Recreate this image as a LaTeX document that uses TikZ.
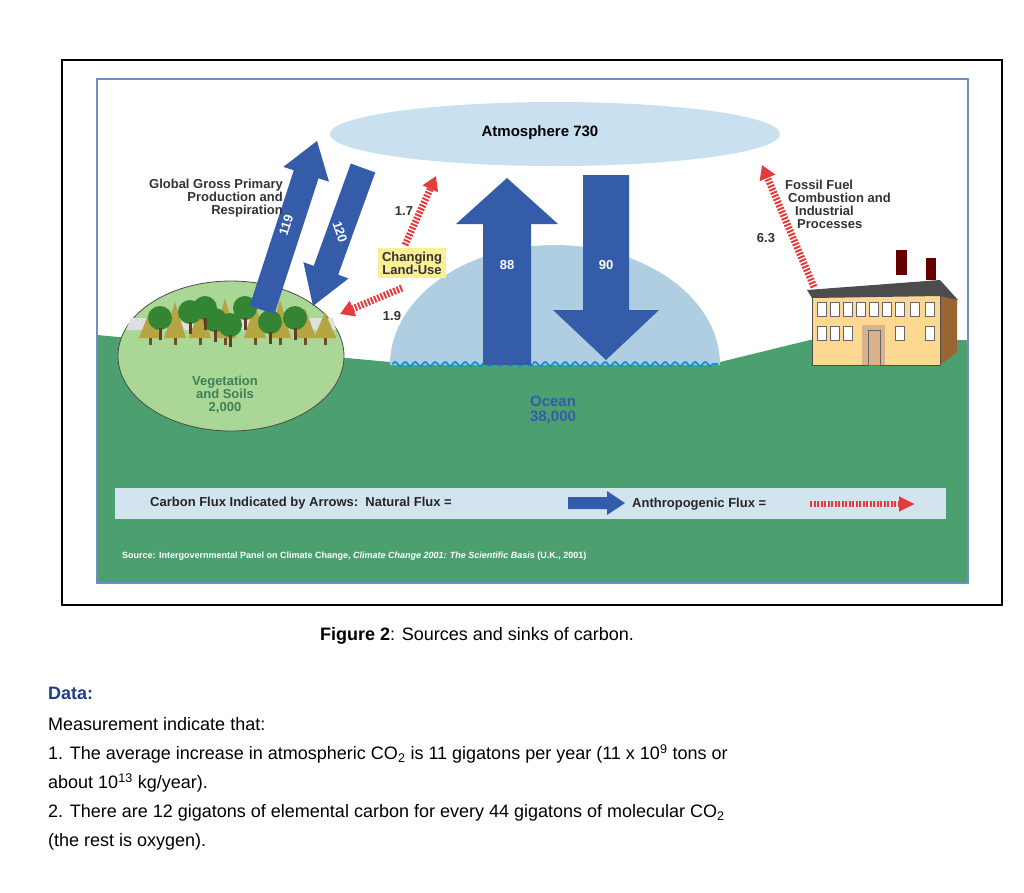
\documentclass[tikz,border=0pt]{standalone}
\usepackage{fontspec}
\setmainfont{Liberation Sans}
\usetikzlibrary{calc,arrows.meta,decorations.pathmorphing,shapes.geometric}
\definecolor{ground}{RGB}{76,160,112}
\definecolor{oceanc}{RGB}{176,206,226}
\definecolor{atm}{RGB}{200,224,240}
\definecolor{arrowb}{RGB}{52,92,168}
\definecolor{vegc}{RGB}{170,214,150}
\definecolor{yel}{RGB}{250,238,150}
\definecolor{redf}{RGB}{228,60,60}
\definecolor{legb}{RGB}{210,228,238}
\definecolor{datab}{RGB}{30,60,140}
\tikzset{
  lbl/.style={font=\bfseries\fontsize{13}{13}\selectfont, text=black!80, align=center, inner sep=0pt},
  big/.style={fill=arrowb},
  anthro/.style={draw=redf, line width=7pt, dash pattern=on 2pt off 1.5pt, -{Triangle[width=16pt,length=14pt,fill=redf]}},
  body/.style={font=\fontsize{18}{18}\selectfont, anchor=west, inner sep=0pt},
}
\newcommand\fatarrow[5]{%
  \path (#1) coordinate (fa1) (#2) coordinate (fa2);
  \coordinate (fh) at ($(fa2)!#5pt!(fa1)$);
  \fill[big] ($(fa1)!#3pt!90:(fa2)$) -- ($(fh)!#3pt!90:(fa2)$) -- ($(fh)!#4pt!90:(fa2)$) -- (fa2)
    -- ($(fh)!#4pt!-90:(fa2)$) -- ($(fh)!#3pt!-90:(fa2)$) -- ($(fa1)!#3pt!-90:(fa2)$) -- cycle;}
\begin{document}
\begin{tikzpicture}[x=1pt,y=-1pt]
\useasboundingbox (0,0) rectangle (1024,892);
% outer frame
\draw[line width=1.8pt] (62,60) rectangle (1002,605);
% panel
\fill[white] (97,79) rectangle (968,583);
\fill[ground] (97,335) -- (390,362) -- (720,362) -- (810,340) -- (968,340) -- (968,583) -- (97,583) -- cycle;
\fill[oceanc] (390,365) arc[start angle=180,end angle=360,x radius=165,y radius=120] -- cycle;
\draw[cyan!80!blue, line width=1.8pt, decorate, decoration={snake,amplitude=2pt,segment length=10pt}] (392,364) -- (718,364);
\draw[arrowb!70, line width=1.5pt] (97,79) rectangle (968,583);
% atmosphere
\node[ellipse, fill=atm, minimum width=450pt, minimum height=64pt, draw=none, inner sep=0pt] (atm) at (555,134) {};
\node[lbl, text=black] (atml) at (540,133) {\fontsize{15}{15}\selectfont Atmosphere 730};
% vegetation
\node[ellipse, draw=black!70, thick, fill=vegc, minimum width=226pt, minimum height=150pt, inner sep=0pt] (veg) at (231,356) {};
\fill[gray!25] (131,318) -- (333,318) -- (336,330) -- (126,330) -- cycle;
\foreach \x/\h in {150/28,175/36,200/30,225/40,255/34,280/38,305/30,325/26}{
  \fill[olive!60!brown!80] (\x-11,338) -- (\x,338-\h) -- (\x+11,338) -- cycle;
  \fill[brown!60!black] (\x-1.5,338) rectangle (\x+1.5,345);}
\foreach \x/\y in {160/318,190/312,215/320,245/308,270/322,295/318,205/308,230/325}{
  \fill[green!40!black!80] (\x,\y) circle (12);
  \fill[brown!50!black] (\x-1.5,\y+10) rectangle (\x+1.5,\y+22);}
\node[lbl, text=ground!80!black] (vegl) at (225,395) {Vegetation\\and Soils\\2,000};
% ocean label
\node[lbl, text=arrowb, font=\bfseries\fontsize{15}{15}\selectfont] (ocl) at (553,410) {Ocean\\38,000};
% natural arrows
\coordinate (a119s) at (262,310); \coordinate (a119e) at (317,141);
\fatarrow{a119s}{a119e}{13}{24}{35}
\coordinate (a120s) at (363,168); \coordinate (a120e) at (313,306);
\fatarrow{a120s}{a120e}{13}{24}{38}
\node[lbl, text=white, rotate=72] (n119) at (286,225) {119};
\node[lbl, text=white, rotate=-72] (n120) at (340,232) {120};
\coordinate (a88s) at (507,365); \coordinate (a88e) at (507,178);
\fatarrow{a88s}{a88e}{24}{51}{46}
\coordinate (a90s) at (606,175); \coordinate (a90e) at (606,360);
\fatarrow{a90s}{a90e}{23}{53}{50}
\node[lbl, text=white] (n88) at (507,265) {88};
\node[lbl, text=white] (n90) at (606,265) {90};
% anthropogenic
\coordinate (l17s) at (405,245); \coordinate (l17e) at (436,176);
\draw[anthro] (l17s) -- (l17e);
\coordinate (l19s) at (402,288); \coordinate (l19e) at (340,314);
\draw[anthro] (l19s) -- (l19e);
\coordinate (ffs) at (814,287); \coordinate (ffe) at (762,165);
\draw[anthro] (ffs) -- (ffe);
\node[lbl] (v17) at (404,211) {1.7};
\node[lbl] (v19) at (392,316) {1.9};
\node[lbl] (v63) at (766,238) {6.3};
\node[lbl, fill=yel, inner sep=4pt] (clu) at (412,263) {Changing\\Land-Use};
\node[lbl, align=right, anchor=east] (ggp) at (283,198) {Global Gross Primary\\Production and\\Respiration};
\node[lbl, align=left, anchor=west] (ffl) at (785,204) {Fossil Fuel\\\hspace{3pt}Combustion and\\\hspace{10pt}Industrial\\\hspace{12pt}Processes};
% factory
\fill[red!40!black] (896,250) rectangle (907,275);
\fill[red!40!black] (926,258) rectangle (936,280);
\fill[brown!80!black] (940,285) -- (957,300) -- (957,352) -- (940,365) -- cycle;
\fill[yellow!30!orange!40] (812,295) rectangle (940,365);
\draw[black!70] (812,295) rectangle (940,365);
\fill[black!70] (807,290) -- (940,280) -- (958,300) -- (940,296) -- (812,298) -- cycle;
\foreach \x in {817,830,843,856,869,882,895,910,925}{\draw[black!60,fill=white] (\x,302) rectangle ++(9,14);}
\foreach \x in {817,830,843,895,925}{\draw[black!60,fill=white] (\x,326) rectangle ++(9,14);}
\fill[brown!60] (862,325) rectangle (885,365);
\draw[black!60] (868,330) rectangle (880,365);
% legend
\fill[legb] (115,488) rectangle (946,519);
\node[lbl, anchor=west, text=black!85] (leg1) at (150,503) {Carbon Flux Indicated by Arrows:\ \ Natural Flux =};
\coordinate (lbs) at (568,503); \coordinate (lbe) at (625,503);
\fatarrow{lbs}{lbe}{6}{12}{18}
\node[lbl, anchor=west, text=black!85] (leg2) at (632,504) {Anthropogenic Flux =};
\coordinate (lrs) at (810,504); \coordinate (lre) at (915,504);
\draw[draw=redf, line width=6pt, dash pattern=on 2pt off 1.5pt, -{Triangle[width=14pt,length=16pt,fill=redf]}] (lrs) -- (lre);
\node[lbl, anchor=west, text=white, font=\bfseries\fontsize{9}{9}\selectfont] (src) at (122,556) {Source: Intergovernmental Panel on Climate Change, \textit{Climate Change 2001: The Scientific Basis} (U.K., 2001)};
% caption and data
\node[font=\fontsize{18}{18}\selectfont, inner sep=0pt] (cap) at (477,636) {\textbf{Figure 2}: Sources and sinks of carbon.};
\node[body, text=datab, font=\bfseries\fontsize{18}{18}\selectfont] (d0) at (48,693) {Data:};
\node[body] (d1) at (48,724) {Measurement indicate that:};
\node[body] (d2) at (48,754) {1. The average increase in atmospheric CO\textsubscript{2} is 11 gigatons per year (11 x 10\textsuperscript{9} tons or};
\node[body] (d3) at (48,783) {about 10\textsuperscript{13} kg/year).};
\node[body] (d4) at (48,813) {2. There are 12 gigatons of elemental carbon for every 44 gigatons of molecular CO\textsubscript{2}};
\node[body] (d5) at (48,842) {(the rest is oxygen).};
\end{tikzpicture}
\end{document}
